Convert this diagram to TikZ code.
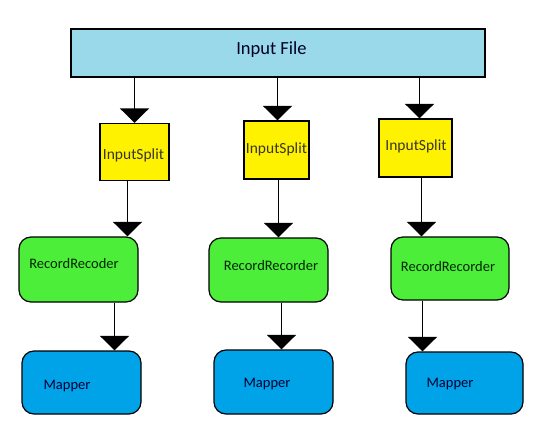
\documentclass[tikz,border=0pt]{standalone}
\usepackage{fontspec}
\setmainfont{Carlito}
\usetikzlibrary{arrows.meta}
\definecolor{fileblue}{HTML}{99D9EA}
\definecolor{splityellow}{HTML}{FFF200}
\definecolor{recgreen}{HTML}{4CEE3A}
\definecolor{mapblue}{HTML}{00A2E8}
\begin{document}
\begin{tikzpicture}[x=1pt,y=-1pt,
  box/.style={draw=black, line width=1.2pt, inner sep=0pt},
  filebox/.style={box, fill=fileblue, minimum width=414pt, minimum height=48pt},
  splitbox/.style={box, fill=splityellow, minimum height=57pt},
  recbox/.style={box, fill=recgreen, rounded corners=12pt, minimum width=119pt, minimum height=64pt},
  mapbox/.style={box, fill=mapblue, rounded corners=12pt, minimum width=118pt, minimum height=63pt},
  txt/.style={inner sep=0pt, font=\fontsize{14.5}{16}\selectfont},
  conn/.style={draw=black, line width=1.2pt, -{Triangle[width=29pt,length=14.5pt]}}]
\useasboundingbox (0,0) rectangle (555,447);
% boxes
\node[filebox] (file) at (278,53) {};
\node[inner sep=0pt, font=\fontsize{18.5}{20}\selectfont, text=black!85!blue] (filet) at (271.5,50) {Input File};

\node[splitbox, minimum width=69pt] (s1) at (134.5,152) {};
\node[splitbox, minimum width=65pt, minimum height=58pt] (s2) at (276.5,150) {};
\node[splitbox, minimum width=73pt, minimum height=58pt] (s3) at (415.5,148) {};
\node[txt, font=\fontsize{15.5}{17}\selectfont, text=black!80!olive] (s1t) at (133.5,155) {InputSplit};
\node[txt, font=\fontsize{15.5}{17}\selectfont, text=black!80!olive] (s2t) at (276.5,149) {InputSplit};
\node[txt, font=\fontsize{15.5}{17}\selectfont, text=black!80!olive] (s3t) at (416,146) {InputSplit};

\node[recbox, minimum height=65pt] (r1) at (78.5,269.5) {};
\node[recbox] (r2) at (268.5,270) {};
\node[recbox, minimum width=118pt, minimum height=63pt] (r3) at (450,268.5) {};
\node[txt, text=black!85!green] (r1t) at (74,264) {RecordRecoder};
\node[txt, text=black!85!green] (r2t) at (271,266) {RecordRecorder};
\node[txt, text=black!85!green] (r3t) at (448,267) {RecordRecorder};

\node[mapbox, minimum width=119pt] (m1) at (81.5,382.5) {};
\node[mapbox, minimum width=119pt, minimum height=64pt] (m2) at (273.5,382) {};
\node[mapbox, minimum width=117pt, minimum height=62pt] (m3) at (464.5,383) {};
\node[txt, text=black!80!blue] (m1t) at (67,386) {Mapper};
\node[txt, text=black!80!blue] (m2t) at (267,384) {Mapper};
\node[txt, text=black!80!blue] (m3t) at (450,384) {Mapper};

% connectors
\draw[conn] (file.south -| 134.5,0) -- (s1.north -| 134.5,0);
\draw[conn] (file.south -| 277.5,0) -- (s2.north -| 277.5,0);
\draw[conn] (file.south -| 419.5,0) -- (s3.north -| 419.5,0);
\draw[conn] (s1.south -| 127.5,0) -- (r1.north -| 127.5,0);
\draw[conn] (s2.south -| 278.5,0) -- (r2.north -| 278.5,0);
\draw[conn] (s3.south -| 421.5,0) -- (r3.north -| 421.5,0);
\draw[conn] (r1.south -| 114.5,0) -- (m1.north -| 114.5,0);
\draw[conn] (r2.south -| 281.5,0) -- (m2.north -| 281.5,0);
\draw[conn] (r3.south -| 422.5,0) -- (m3.north -| 422.5,0);
\end{tikzpicture}
\end{document}
